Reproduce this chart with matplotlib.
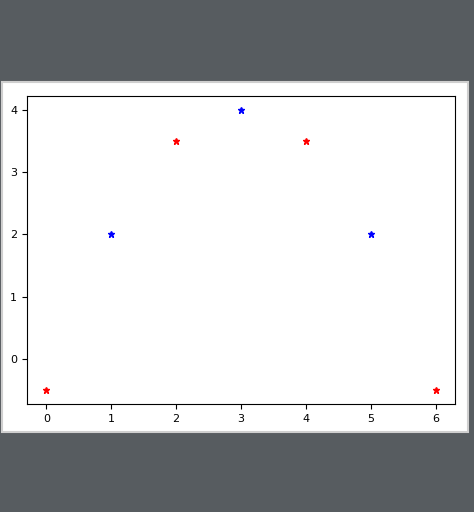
import matplotlib
matplotlib.use("Agg")
import matplotlib.pyplot as plt
from matplotlib.patches import Rectangle

xs = [0, 1, 2, 3, 4, 5, 6]
ys = [-0.5, 2, 3.5, 4, 3.5, 2, -0.5]
colors = ['red', 'blue', 'red', 'blue', 'red', 'blue', 'red']

W, H = 474, 512
fig = plt.figure(figsize=(W / 100, H / 100), dpi=100, facecolor='#575c60')

# white window area of the screenshot, kept behind the axes
win = Rectangle((2 / W, 1 - 432 / H), 466 / W, 350 / H,
                transform=fig.transFigure, facecolor='white',
                edgecolor='#cfcfcf', linewidth=1.5, zorder=-10)
fig.patches.append(win)

ax = fig.add_axes([27 / W, 1 - 404 / H, (455 - 27) / W, (404 - 96) / H])
ax.set_zorder(1)
for x, y, c in zip(xs, ys, colors):
    ax.plot(x, y, '*', color=c, markersize=5)

ax.set_xlim(-0.3, 6.3)
ax.set_ylim(-0.72, 4.22)
ax.set_xticks(range(7))
ax.set_yticks(range(5))
ax.tick_params(labelsize=8)

fig.savefig('out.png', dpi=100, facecolor=fig.get_facecolor())
